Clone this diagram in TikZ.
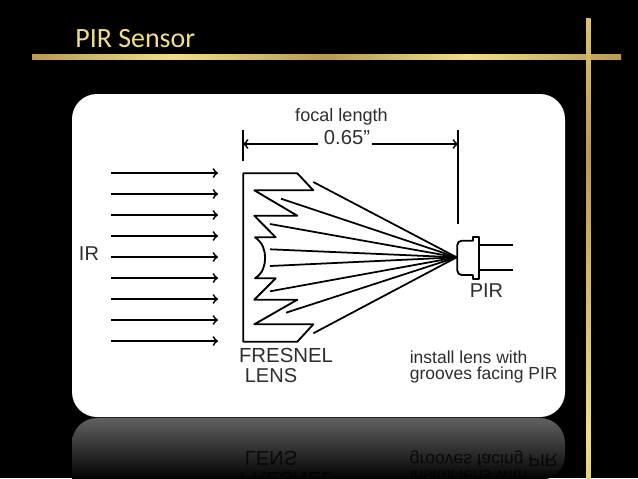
\documentclass[tikz,border=0pt]{standalone}
\usepackage{fontspec}
\setmainfont{Liberation Sans}
\newfontfamily\titlefont{Carlito}
\definecolor{goldlight}{HTML}{F2DE85}
\definecolor{goldmid}{HTML}{B99A50}
\definecolor{golddark}{HTML}{8F7F55}
\definecolor{inkgray}{HTML}{2E2E2E}
\pgfdeclarehorizontalshading{goldbar}{100bp}{color(0bp)=(golddark); color(25bp)=(goldmid); color(37bp)=(goldlight); color(50bp)=(goldmid); color(62bp)=(goldlight); color(75bp)=(goldmid); color(85bp)=(goldlight); color(100bp)=(golddark)}
\pgfdeclareverticalshading{goldpost}{100bp}{color(0bp)=(goldmid); color(30bp)=(goldlight); color(60bp)=(goldmid); color(85bp)=(goldlight); color(100bp)=(golddark)}
\tikzset{
    labeltext/.style = {font = \fontsize{11.4pt}{13pt}\selectfont, text = inkgray, inner sep = 0pt},
    notetext/.style = {font = \fontsize{9.95pt}{12pt}\selectfont, text = inkgray, inner sep = 0pt, anchor = west},
    mirrortext/.style = {yscale = -1, text opacity = 0.75},
    line/.style = {draw = black, line width = 1.05pt, line join = round},
    irarrow/.style = {line, ->},
    ray/.style = {draw = black, line width = 1pt}
}
\begin{document}
\begin{tikzpicture}[x = 0.02cm, y = -0.02cm]
    \useasboundingbox (0,0) rectangle (638,478);
    \fill[black] (0,0) rectangle (638,478);
    \begin{scope}
        \clip (0,0) rectangle (638,478);
        \shade[top color = black!62!white, bottom color = black, rounded corners = 0.5cm] (72,480) -- (72,418) -- (565,418) -- (565,480) [sharp corners] -- cycle;
        \node[labeltext, mirrortext, text = black] (lensmirror) at (271,458) {LENS};
        \node[labeltext, mirrortext, text = black] (fresnelmirror) at (286,479) {FRESNEL};
        \node[notetext, mirrortext, text = black] (groovesmirror) at (409.5,459) {grooves facing PIR};
        \node[notetext, mirrortext, text = black] (installmirror) at (409.5,477) {install lens with};
    \end{scope}
    \shade[shading = goldbar] (32,54) rectangle (621,59);
    \shade[shading = goldpost] (586,18) rectangle (590.5,478);
    \node[font = \titlefont\fontsize{15.9pt}{18pt}\selectfont, text = goldlight, inner sep = 0pt, anchor = base west] (title) at (75,47) {PIR Sensor};
    \fill[white, rounded corners = 0.5cm] (72,94) rectangle (565,417);

    \foreach \y in {173, 194, 215, 236, 257, 278, 299, 320, 341}
        \draw[irarrow] (111,\y) -- (218,\y);
    \node[labeltext] (ir) at (89,254) {IR};

    \node[labeltext, font = \fontsize{10.3pt}{12pt}\selectfont] (focal) at (341.5,117) {focal length};
    \node[labeltext, font = \fontsize{11.5pt}{13pt}\selectfont] (distance) at (347,138) {0.65\symbol{34}};
    \coordinate (lefttop) at (243,130);
    \coordinate (leftend) at (243,161);
    \coordinate (righttop) at (458,130);
    \coordinate (rightend) at (458,224);
    \coordinate (leftgap) at (318,144);
    \coordinate (rightgap) at (372,144);
    \draw[line] (lefttop) -- (leftend);
    \draw[line] (righttop) -- (rightend);
    \draw[irarrow] (leftgap) -- (lefttop |- leftgap);
    \draw[irarrow] (rightgap) -- (righttop |- rightgap);

    \draw[line] (243.3,173.3) -- (297.3,173.3) -- (313.3,190.3) -- (254.3,190.3) -- (297.3,215.7) -- (254.3,215.7) -- (275.7,237.3) -- (255,237.3)
        .. controls (263,243) and (265,250) .. (265,257.8) .. controls (265,266) and (263,273) .. (255,278.3)
        -- (275.7,278.3) -- (254.3,299.7) -- (297.3,299.7) -- (254.3,324.3) -- (313.3,324.3) -- (297.3,341.7) -- (243.3,341.7) -- cycle;

    \coordinate (focus) at (456.7,257.3);
    \foreach \x/\y in {313.3/182, 281/198.7, 270/224, 270/249.3, 270/266, 270/291.3, 286/312.7, 313.3/333.3}
        \draw[ray] (\x,\y) -- (focus);

    \draw[line, rounded corners = 2.5pt] (473.3,240.7) -- (457.3,240.7) -- (457.3,275) -- (473.3,275);
    \draw[line] (473.3,240.7) -- (473.3,236.7) -- (479.3,236.7) -- (479.3,279.3) -- (473.3,279.3) -- (473.3,275);
    \draw[line, line width = 0.8pt] (479.3,245) -- (512.7,245);
    \draw[line, line width = 0.8pt] (479.3,270) -- (512.7,270);
    \node[labeltext] (pir) at (486.5,291) {PIR};

    \node[labeltext, font = \fontsize{11.6pt}{13pt}\selectfont] (fresnel) at (286,355) {FRESNEL};
    \node[labeltext] (lens) at (271,376) {LENS};
    \node[notetext] (install) at (409.5,357) {install lens with};
    \node[notetext] (grooves) at (409.5,375) {grooves facing PIR};
\end{tikzpicture}
\end{document}
